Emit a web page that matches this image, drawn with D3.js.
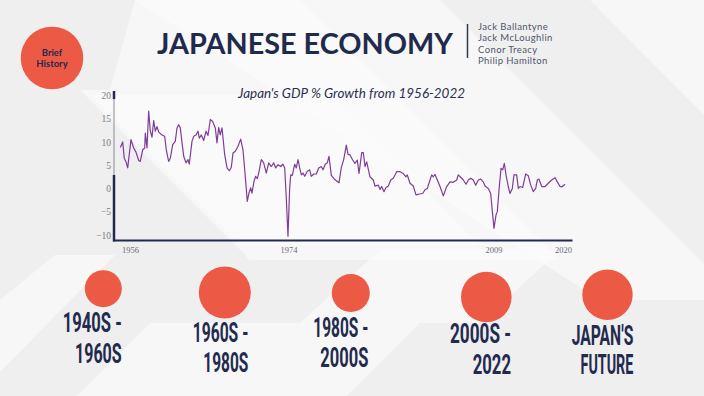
<!DOCTYPE html>
<html>
<head>
<meta charset="utf-8">
<script src="https://cdn.jsdelivr.net/npm/d3@7"></script>
<style>
  body { margin: 0; background: #f2f2f3; }
  svg { display: block; }
</style>
</head>
<body>
<svg width="704" height="396"></svg>
<script>
// Japan quarterly GDP growth (%)
const years = [
  1954.90,1955.17,1955.35,1955.55,1955.74,1956.11,1956.42,1956.68,1956.99,1957.17,
  1957.44,1957.67,1957.74,1957.93,1958.12,1958.31,1958.50,1958.69,1958.87,1959.07,
  1959.26,1959.63,1959.94,1960.12,1960.39,1960.58,1960.85,1961.14,1961.34,1961.53,
  1961.71,1961.91,1962.10,1962.36,1962.59,1962.73,1963.04,1963.23,1963.50,1963.72,
  1963.87,1964.10,1964.37,1964.63,1964.86,1965.12,1965.39,1965.69,1965.88,1966.07,
  1966.25,1966.45,1966.75,1967.02,1967.28,1967.50,1967.70,1967.96,1968.26,1968.57,
  1968.83,1969.03,1969.32,1969.51,1969.71,1969.85,1970.08,1970.27,1970.46,1970.62,
  1970.91,1971.18,1971.48,1971.75,1972.05,1972.32,1972.55,1972.81,1973.11,1973.37,
  1973.57,1973.75,1973.94,1974.20,1974.38,1974.65,1975.06,1975.33,1975.62,1975.91,
  1976.19,1976.48,1976.77,1977.21,1977.62,1977.89,1978.35,1978.75,1979.16,1979.60,
  1979.89,1980.28,1980.62,1980.91,1981.31,1981.89,1982.62,1983.01,1983.42,1983.87,
  1984.16,1984.50,1984.96,1985.35,1985.75,1986.04,1986.50,1986.77,1987.06,1987.35,
  1987.91,1988.48,1988.77,1989.33,1989.62,1989.91,1990.30,1990.64,1991.04,1991.45,
  1991.89,1992.47,1993.04,1993.60,1994.06,1994.28,1994.74,1995.31,1995.77,1996.33,
  1996.91,1997.31,1997.70,1998.16,1998.45,1998.72,1999.01,1999.41,1999.87,2000.43,
  2001.01,2001.57,2002.14,2002.72,2002.99,2003.40,2003.84,2004.31,2004.70,2005.11,
  2005.55,2005.96,2006.41,2006.82,2007.26,2007.55,2008.11,2008.52,2008.86,2009.08,
  2009.40,2009.60,2009.92,2010.19,2010.46,2010.71,2010.98,2011.34,2011.61,2011.98,
  2012.24,2012.67,2012.93,2013.19,2013.62,2014.10,2014.51,2014.89,2015.30,2015.68,
  2015.93,2016.20,2016.63,2017.15,2017.68,2018.21,2018.74,2019.10,2019.53,2019.89,2020.32
];
const growth = [
  8.5,9.7,6.2,5.4,4.1,10.2,8.4,7.5,5.7,5.5,
  8.0,8.4,11.6,8.4,16.3,12.0,10.7,14.3,12.0,13.0,
  11.8,11.2,10.9,8.0,5.5,6.2,9.1,9.8,12.7,13.4,
  12.7,9.5,6.6,5.2,5.9,4.9,9.8,10.9,11.2,12.0,
  10.5,11.2,10.0,12.0,11.1,14.5,14.1,12.7,9.5,12.8,
  11.2,12.7,7.0,4.1,3.5,4.2,7.3,7.7,8.7,10.3,
  8.0,3.7,-3.1,-1.3,-0.2,-1.3,1.2,2.3,1.8,3.0,
  5.9,5.2,3.0,5.2,4.4,5.2,4.1,4.8,4.4,4.9,
  4.1,-2.4,-10.6,-0.2,2.6,2.5,4.9,4.1,5.9,4.1,
  2.6,3.0,2.3,3.4,3.7,2.3,2.8,2.8,4.1,4.4,
  3.7,4.9,5.2,6.6,2.5,1.6,0.9,4.1,5.9,9.0,
  7.0,6.9,5.8,5.1,5.8,2.9,7.4,7.4,4.4,5.4,
  2.2,1.5,0.2,0.4,-0.5,0.1,-1.0,-0.1,0.2,1.5,
  1.9,3.3,3.3,2.9,2.2,2.6,0.8,0.2,-1.7,-1.5,
  -1.4,-0.6,-0.3,1.5,2.6,2.2,2.7,1.5,0.1,-1.9,
  0.1,1.1,1.0,1.5,2.6,2.1,1.5,0.6,1.5,1.9,
  1.5,0.4,1.5,1.7,1.1,0.2,-0.3,-1.4,-6.0,-8.9,
  -6.0,-5.3,0.1,4.0,3.7,5.1,2.6,0.1,-1.4,-0.3,
  2.6,2.6,-0.3,0.1,-0.1,2.8,2.4,0.4,-1.0,-0.3,
  1.5,1.7,0.1,0.1,0.8,1.5,2.0,1.1,0.1,0.1,0.6
];
const yTicks = [-10, -5, 0, 5, 10, 15, 20];
const xTicks = [1956, 1974, 2009, 2020];
const authors = ["Jack Ballantyne", "Jack McLoughlin", "Conor Treacy", "Philip Hamilton"];
const eraLabels = [
  ["1940s -", "1960s"],
  ["1960s -", "1980s"],
  ["1980s -", "2000s"],
  ["2000s -", "2022"],
  ["JAPAN'S", "FUTURE"]
];

const NAVY = "#222a4e";
const RED = "#ec5a46";

const svg = d3.select("svg");

// background with soft diagonal bands
const bg = svg.append("g");
bg.append("rect").attr("width", 704).attr("height", 396).attr("fill", "#efeff0");
const bands = [
  "M135,0 L440,0 L704,264 L704,300 L600,300 Z",
  "M135,0 L300,0 L560,260 L250,260 L80,90 L110,90 Z",
  "M590,0 L704,0 L704,115 Z",
  "M90,95 L330,95 L480,245 L240,245 Z",
  "M150,323 L420,323 L347,396 L77,396 Z",
  "M0,300 L55,255 L115,255 L0,372 Z",
  "M380,250 L560,250 L480,323 L300,323 Z"
];
bg.selectAll("path.band").data(bands).enter().append("path")
  .attr("class", "band")
  .attr("d", d => d)
  .attr("fill", "#fbfbfb")
  .attr("opacity", 0.7);

// header
svg.append("circle").attr("cx", 52).attr("cy", 58).attr("r", 31.3).attr("fill", RED);
svg.append("text").attr("x", 52).attr("y", 56).attr("text-anchor", "middle")
  .attr("font-family", "Lato, sans-serif").attr("font-weight", 700).attr("font-size", 9.5)
  .attr("fill", "#26294a").text("Brief");
svg.append("text").attr("x", 52).attr("y", 66.5).attr("text-anchor", "middle")
  .attr("font-family", "Lato, sans-serif").attr("font-weight", 700).attr("font-size", 9.5)
  .attr("fill", "#26294a").text("History");

svg.append("text").attr("x", 157).attr("y", 54)
  .attr("font-family", "Lato, sans-serif").attr("font-weight", 700).attr("font-size", 29)
  .attr("textLength", 296).attr("lengthAdjust", "spacingAndGlyphs")
  .attr("fill", "#1f2a4d").text("JAPANESE ECONOMY");

svg.append("line").attr("x1", 467.5).attr("x2", 467.5).attr("y1", 24).attr("y2", 58)
  .attr("stroke", "#2c3a48").attr("stroke-width", 1.5);

svg.selectAll("text.author").data(authors).enter().append("text")
  .attr("class", "author")
  .attr("x", 478).attr("y", (d, i) => 29.5 + i * 11.6)
  .attr("font-family", "Lato, sans-serif").attr("font-size", 9.5)
  .attr("letter-spacing", 0.4)
  .attr("fill", "#50566a").text(d => d);

svg.append("text").attr("x", 238).attr("y", 98)
  .attr("font-family", "Lato, sans-serif").attr("font-style", "italic").attr("font-size", 13)
  .attr("textLength", 227).attr("lengthAdjust", "spacingAndGlyphs")
  .attr("fill", "#2b3050").text("Japan's GDP % Growth from 1956-2022");

// chart
const x = d3.scaleLinear().domain([1956, 1974, 2009, 2020]).range([130, 288.5, 493.5, 563]);
const y = d3.scaleLinear().domain([-10, 20]).range([233.5, 94]);

const yAxis = svg.append("g").attr("transform", "translate(112,1.5)")
  .call(d3.axisLeft(y).tickValues(yTicks).tickSize(0).tickPadding(1));
yAxis.select(".domain").remove();
yAxis.selectAll("text").attr("font-family", "'Liberation Serif', serif")
  .attr("font-size", 9.5).attr("fill", "#7a7a80");

const xAxis = svg.append("g").attr("transform", "translate(0,244)")
  .call(d3.axisBottom(x).tickValues(xTicks).tickFormat(d3.format("d")).tickSize(0).tickPadding(3));
xAxis.select(".domain").remove();
xAxis.selectAll("text").attr("font-family", "'Liberation Serif', serif")
  .attr("font-size", 8.5).attr("fill", "#6d6d75");

// axis lines
svg.append("line").attr("x1", 114).attr("x2", 114).attr("y1", 91).attr("y2", 240)
  .attr("stroke", "#8a8a92").attr("stroke-width", 1);
svg.append("line").attr("x1", 114).attr("x2", 114).attr("y1", 91).attr("y2", 99)
  .attr("stroke", NAVY).attr("stroke-width", 2.5);
svg.append("line").attr("x1", 114).attr("x2", 114).attr("y1", 175).attr("y2", 241.5)
  .attr("stroke", NAVY).attr("stroke-width", 2.5);
svg.append("line").attr("x1", 113).attr("x2", 572.5).attr("y1", 240.5).attr("y2", 240.5)
  .attr("stroke", NAVY).attr("stroke-width", 2);

const line = d3.line()
  .x((d, i) => x(years[i]))
  .y(d => y(d));
svg.append("path").datum(growth)
  .attr("d", line)
  .attr("fill", "none")
  .attr("stroke", "#7e3d99")
  .attr("stroke-width", 1.2)
  .attr("stroke-linejoin", "round");

// timeline circles
const eraLayout = [
  { cx: 103.3, cy: 288.7, r: 18.5, right: 121.7, base: [332, 363], w: [59, 46.7] },
  { cx: 224.8, cy: 292.5, r: 26, right: 248.3, base: [341.7, 371.7], w: [55.6, 45] },
  { cx: 350.8, cy: 293, r: 19, right: 368.3, base: [337, 367], w: [55, 48] },
  { cx: 486.3, cy: 297, r: 25.3, right: 511, base: [343.3, 374], w: [61, 38.3] },
  { cx: 607.5, cy: 294.7, r: 25.2, right: 633.3, base: [345, 374], w: [61.6, 52.7] }
];

const eras = svg.selectAll("g.era").data(eraLabels).enter().append("g").attr("class", "era");
eras.append("circle")
  .attr("cx", (d, i) => eraLayout[i].cx)
  .attr("cy", (d, i) => eraLayout[i].cy)
  .attr("r", (d, i) => eraLayout[i].r)
  .attr("fill", RED);
eras.each(function (d, i) {
  const g = d3.select(this);
  d.forEach((t, j) => {
    g.append("text")
      .attr("x", eraLayout[i].right)
      .attr("y", eraLayout[i].base[j])
      .attr("text-anchor", "end")
      .attr("font-family", "Roboto, sans-serif")
      .attr("font-weight", 700)
      .attr("font-size", 27)
      .attr("textLength", eraLayout[i].w[j])
      .attr("lengthAdjust", "spacingAndGlyphs")
      .style("text-transform", "uppercase")
      .attr("fill", NAVY)
      .text(t);
  });
});
</script>
</body>
</html>
